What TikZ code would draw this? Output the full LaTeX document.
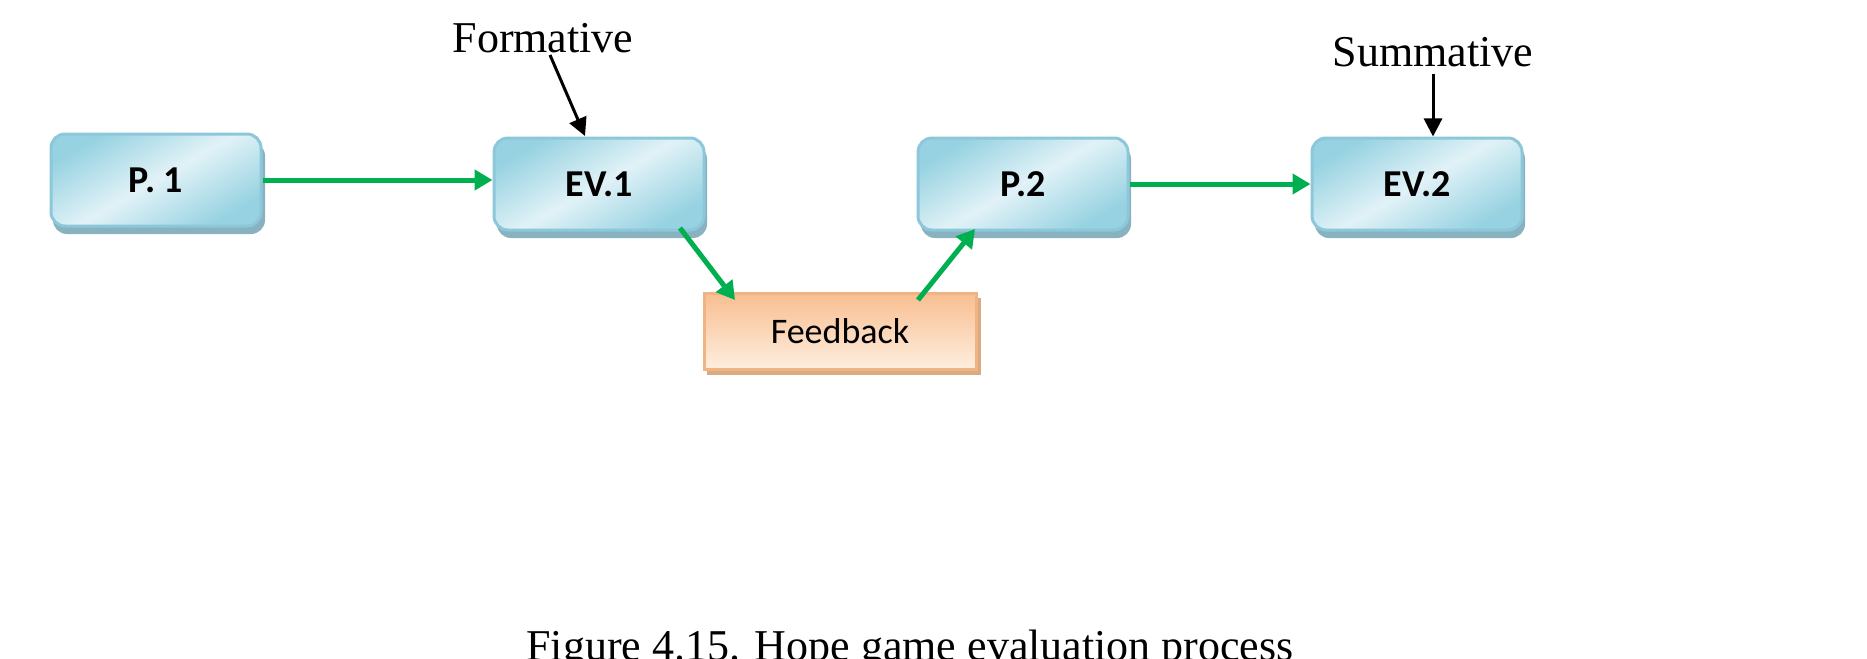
\documentclass[tikz,border=0pt]{standalone}
\usepackage{fontspec}
\setmainfont{Liberation Serif}
\newfontfamily\boxfont{Carlito}
\usetikzlibrary{arrows.meta}
\definecolor{bluebd}{RGB}{140,200,218}
\definecolor{bluedk}{RGB}{150,210,225}
\definecolor{bluelt}{RGB}{225,242,247}
\definecolor{orbd}{RGB}{240,180,130}
\definecolor{ordk}{RGB}{248,190,145}
\definecolor{orlt}{RGB}{254,238,222}
\definecolor{grn}{RGB}{0,176,80}
\tikzset{
  bbox/.style={draw=bluebd, line width=1.5pt, rounded corners=7pt, minimum width=105pt, minimum height=46pt,
    top color=bluedk, bottom color=bluedk, middle color=bluelt, shading angle=30,
    font=\boxfont\bfseries\fontsize{19}{21}\selectfont},
  obox/.style={draw=orbd, line width=1.5pt, minimum width=136pt, minimum height=38pt,
    top color=ordk, bottom color=orlt, font=\boxfont\fontsize{18}{20}\selectfont},
  garrow/.style={draw=grn, line width=2.5pt, -{Triangle[length=9pt,width=10pt]}},
  karrow/.style={draw=black, line width=1.5pt, -{Triangle[length=9pt,width=9pt]}},
  lbl/.style={font=\fontsize{22}{24}\selectfont}
}
\begin{document}
\begin{tikzpicture}[x=0.5pt,y=-0.5pt]
\clip (0,0) rectangle (1867,658);
\useasboundingbox (0,0) rectangle (1867,658);
\fill[bluebd!70!gray,rounded corners=7pt] (53,142) rectangle (265,234);
\fill[bluebd!70!gray,rounded corners=7pt] (497,145) rectangle (707,238);
\fill[bluebd!70!gray,rounded corners=7pt] (921,145) rectangle (1131,238);
\fill[bluebd!70!gray,rounded corners=7pt] (1315,145) rectangle (1525,238);
\fill[orbd!80!gray] (707,298) rectangle (981,375);
\node[bbox] (p1) at (156,180) {P. 1};
\node[bbox] (ev1) at (599,184) {EV.1};
\node[bbox] (p2) at (1023,184) {P.2};
\node[bbox] (ev2) at (1417,184) {EV.2};
\node[obox] (fb) at (840,331) {Feedback};
\node[lbl] (form) at (543,38) {Formative};
\node[lbl] (summ) at (1433,52) {Summative};
\node[font=\fontsize{22}{24}\selectfont] (cap) at (910,650) {Figure 4.15. Hope game evaluation process};
\coordinate (a1) at (680,228);
\coordinate (a2) at (735,300);
\coordinate (b1) at (918,300);
\coordinate (b2) at (975,229);
\coordinate (f1) at (550,55);
\coordinate (f2) at (585,136);
\draw[garrow] (p1.east) -- (ev1.west|-p1.east);
\draw[garrow] (a1) -- (a2);
\draw[garrow] (b1) -- (b2);
\draw[garrow] (p2.east) -- (ev2.west);
\draw[karrow] (f1) -- (f2);
\draw[karrow] (summ.south) -- (ev2.north -| summ.south);
\end{tikzpicture}
\end{document}
